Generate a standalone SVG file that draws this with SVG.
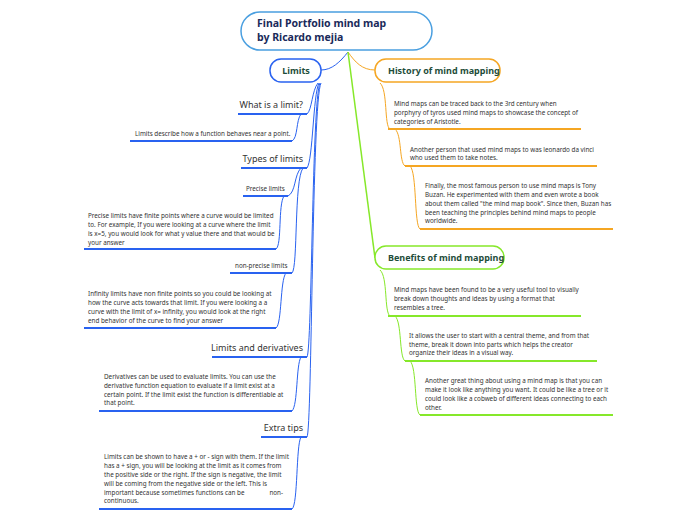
<svg xmlns="http://www.w3.org/2000/svg" width="696" height="520" viewBox="0 0 696 520">
<style>
text{font-family:"Noto Sans","Open Sans",sans-serif;fill:#333}
.s{font-size:6.3px}
.h{font-size:9px;fill:#333}
.t{font-size:9px;font-weight:bold;fill:#1e4d3a}
.c{font-size:10.5px;font-weight:bold;fill:#1a2a5a}
.b{stroke:#2962f0;fill:none;stroke-width:1}
.bu{stroke:#2962f0;stroke-width:2}
.o{stroke:#f5a623;fill:none;stroke-width:1}
.ou{stroke:#f5a623;stroke-width:2}
.g{stroke:#86e82a;fill:none;stroke-width:1}
.gu{stroke:#86e82a;stroke-width:2}
</style>
<g id="connectors">
<path class="b" d="M348 52 C340 62 332 70 321 70" stroke-width="1.5"/>
<path class="o" d="M348 52 C355 62 362 70 375 70" stroke-width="1.5"/>
<path d="M348 52 L375 258" stroke="#86e82a" stroke-width="1.5" fill="none"/>
<path class="b" d="M318 83 C312 90 312 110 307 114"/>
<path class="b" d="M319 83 C313 95 313 160 307 168"/>
<path class="b" d="M320 83 C312 100 312 350 307 357"/>
<path class="b" d="M321 83 C312 100 312 430 307 437"/>
<path class="b" d="M301 114 C296 120 298 138 292 141"/>
<path class="b" d="M301 168 C294 175 296 192 288 196"/>
<path class="b" d="M303 168 C294 180 298 268 292 273"/>
<path class="b" d="M284 196 C278 205 282 245 276 249"/>
<path class="b" d="M286 273 C280 280 282 324 276 328"/>
<path class="b" d="M301 357 C296 365 298 405 292 411"/>
<path class="b" d="M301 437 C296 445 298 505 292 509"/>
<path class="o" d="M380 83 C388 90 384 126 390 129"/>
<path class="o" d="M395 129 C402 135 399 162 405 166"/>
<path class="o" d="M410 166 C417 172 414 225 420 229"/>
<path class="g" d="M380 270 C388 277 384 312 390 316"/>
<path class="g" d="M395 316 C402 322 399 357 405 361"/>
<path class="g" d="M410 361 C417 367 414 411 420 415"/>
</g>
<g id="central">
<rect x="241" y="12" width="191" height="38" rx="19" fill="#fff" stroke="#4a9fe0" stroke-width="1.5"/>
<text class="c" x="257" y="27">Final Portfolio mind map</text>
<text class="c" x="257" y="41">by Ricardo mejia</text>
</g>
<g id="limits">
<rect x="270" y="59" width="51" height="23" rx="11" fill="#fff" stroke="#2962f0" stroke-width="1.5"/>
<text class="t" x="296" y="74" text-anchor="middle">Limits</text>
</g>
<g id="history">
<rect x="375" y="59" width="125" height="23" rx="11" fill="#fff" stroke="#f5a623" stroke-width="1.5"/>
<text class="t" x="388" y="74">History of mind mapping</text>
</g>
<g id="benefits">
<rect x="375" y="246" width="129" height="23" rx="11" fill="#fff" stroke="#86e82a" stroke-width="1.5"/>
<text class="t" x="388" y="261">Benefits of mind mapping</text>
</g>
<g id="what">
<text class="h" x="303" y="108" text-anchor="end">What is a limit?</text>
<line class="bu" x1="238" y1="114" x2="307" y2="114"/>
</g>
<g id="describe">
<text class="s" x="135" y="136">Limits describe how a function behaves near a point.</text>
<line class="bu" x1="130" y1="141" x2="292" y2="141"/>
</g>
<g id="types">
<text class="h" x="303" y="162" text-anchor="end">Types of limits</text>
<line class="bu" x1="241" y1="168" x2="307" y2="168"/>
</g>
<g id="precise">
<text class="s" x="246" y="191">Precise limits</text>
<line class="bu" x1="243" y1="196" x2="288" y2="196"/>
</g>
<g id="precise-text">
<text class="s" x="88" y="218">Precise limits have finite points where a  curve would be limited</text>
<text class="s" x="88" y="227">to. For example, If you were looking at a curve where the limit</text>
<text class="s" x="88" y="236">is x=5, you would look for what y value there and that would be</text>
<text class="s" x="88" y="245">your answer</text>
<line class="bu" x1="84" y1="249" x2="276" y2="249"/>
</g>
<g id="nonprecise">
<text class="s" x="235" y="268">non-precise limits</text>
<line class="bu" x1="230" y1="273" x2="292" y2="273"/>
</g>
<g id="infinity">
<text class="s" x="88" y="296">Infinity limits have non finite points so you could be looking at</text>
<text class="s" x="88" y="305">how the curve acts towards that limit. If you were looking a a</text>
<text class="s" x="88" y="314">curve with the limit of x= infinity, you would look at the right</text>
<text class="s" x="88" y="323">end behavior of the curve to find your answer</text>
<line class="bu" x1="84" y1="328" x2="276" y2="328"/>
</g>
<g id="derivatives">
<text class="h" x="303" y="351" text-anchor="end">Limits and derivatives</text>
<line class="bu" x1="212" y1="357" x2="307" y2="357"/>
</g>
<g id="derivatives-text">
<text class="s" x="104" y="379">Derivatives can be used to evaluate limits.  You can use the</text>
<text class="s" x="104" y="388">derivative function equation to evaluate if a limit exist at a</text>
<text class="s" x="104" y="397">certain point. If the limit exist the function is differentiable at</text>
<text class="s" x="104" y="405">that point.</text>
<line class="bu" x1="99" y1="411" x2="292" y2="411"/>
</g>
<g id="extra">
<text class="h" x="303" y="431" text-anchor="end">Extra tips</text>
<line class="bu" x1="261" y1="437" x2="307" y2="437"/>
</g>
<g id="extra-text">
<text class="s" x="104" y="459">Limits can be shown to have a + or - sign with them. If the limit</text>
<text class="s" x="104" y="468">has a + sign, you will be looking at the limit as it comes from</text>
<text class="s" x="104" y="477">the positive side or the right. If the sign is negative, the limit</text>
<text class="s" x="104" y="486">will be coming from the negative side or the left. This is</text>
<text class="s" x="104" y="495">important because sometimes functions can be</text>
<text class="s" x="283" y="495" text-anchor="end">non-</text>
<text class="s" x="104" y="503">continuous.</text>
<line class="bu" x1="99" y1="509" x2="292" y2="509"/>
</g>
<g id="hist1">
<text class="s" x="394" y="106">Mind maps can be traced back to the 3rd century when</text>
<text class="s" x="394" y="115">porphyry of tyros used mind maps to showcase the concept of</text>
<text class="s" x="394" y="124">categories of Aristotle.</text>
<line class="ou" x1="388" y1="129" x2="581" y2="129"/>
</g>
<g id="hist2">
<text class="s" x="410" y="152">Another person that used mind maps to was leonardo da vinci</text>
<text class="s" x="410" y="160">who used them to take notes.</text>
<line class="ou" x1="405" y1="166" x2="597" y2="166"/>
</g>
<g id="hist3">
<text class="s" x="425" y="188">Finally, the most famous person to use mind maps is Tony</text>
<text class="s" x="425" y="197">Buzan. He experimented with them and even wrote a book</text>
<text class="s" x="425" y="206">about them called "the mind map book". Since then, Buzan has</text>
<text class="s" x="425" y="215">been teaching the principles behind mind maps to people</text>
<text class="s" x="425" y="223">worldwide.</text>
<line class="ou" x1="420" y1="229" x2="613" y2="229"/>
</g>
<g id="ben1">
<text class="s" x="394" y="292">Mind maps have been found to be a very useful tool to visually</text>
<text class="s" x="394" y="301">break down thoughts and ideas by using a format that</text>
<text class="s" x="394" y="310">resembles a tree.</text>
<line class="gu" x1="388" y1="316" x2="581" y2="316"/>
</g>
<g id="ben2">
<text class="s" x="409" y="338">It allows the user to start with a central theme, and from that</text>
<text class="s" x="409" y="347">theme, break it down into parts which helps the creator</text>
<text class="s" x="409" y="355">organize their ideas in a visual way.</text>
<line class="gu" x1="405" y1="361" x2="597" y2="361"/>
</g>
<g id="ben3">
<text class="s" x="425" y="383">Another great thing about using a mind map is that you can</text>
<text class="s" x="425" y="392">make it look like anything you want. It could be like a tree or it</text>
<text class="s" x="425" y="401">could look like a cobweb of different ideas connecting to each</text>
<text class="s" x="425" y="410">other.</text>
<line class="gu" x1="420" y1="415" x2="613" y2="415"/>
</g>
</svg>
